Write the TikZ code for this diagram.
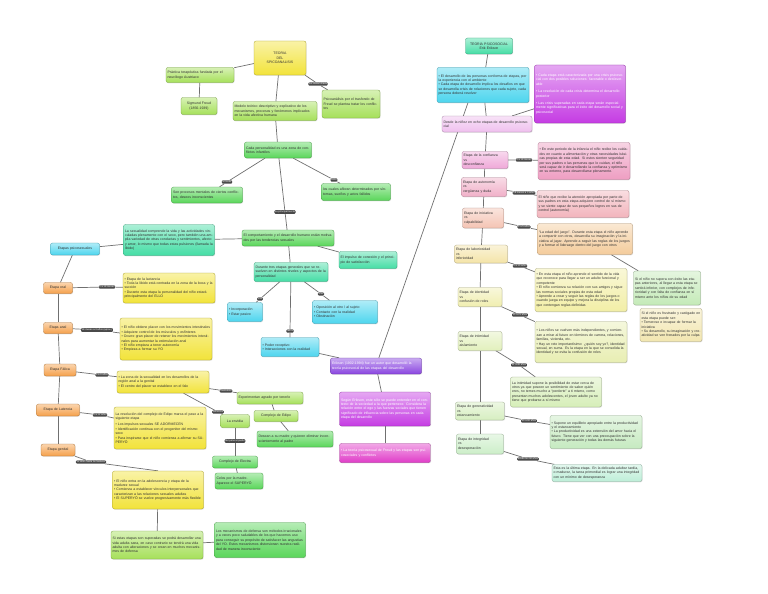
\documentclass[tikz,border=0pt]{standalone}
\usepackage{fontspec}
\setmainfont{Liberation Sans}
\usepackage{tikz}
\usetikzlibrary{shadows}
\definecolor{cYel}{HTML}{F2E33A}
\definecolor{cLime}{HTML}{A6E05A}
\definecolor{cGreen}{HTML}{5AD65A}
\definecolor{cTeal}{HTML}{45DDA5}
\definecolor{cCyan}{HTML}{4DD5EE}
\definecolor{cOrg}{HTML}{F5A04A}
\definecolor{cPurp}{HTML}{8A45E0}
\definecolor{cMag}{HTML}{C53CE3}
\definecolor{cPink}{HTML}{E03CC8}
\definecolor{cLbl}{HTML}{4A4A4A}
\definecolor{cLine}{HTML}{707070}
\definecolor{cLav}{HTML}{EFC0EE}
\definecolor{cStA}{HTML}{EFA8D8}
\definecolor{cTxA}{HTML}{EE9EC2}
\definecolor{cStB}{HTML}{F0B0C8}
\definecolor{cTxB}{HTML}{F2B4BC}
\definecolor{cStC}{HTML}{F4C4B4}
\definecolor{cTxC}{HTML}{F4CC9C}
\definecolor{cStD}{HTML}{F4E4A8}
\definecolor{cTxD}{HTML}{F2EEA6}
\definecolor{cStE}{HTML}{F0EEB0}
\definecolor{cTxE}{HTML}{E8EEB2}
\definecolor{cStF}{HTML}{E2F0BC}
\definecolor{cTxF}{HTML}{D6EEB8}
\definecolor{cStG}{HTML}{D6EEC0}
\definecolor{cTxG}{HTML}{C6EAC0}
\definecolor{cStH}{HTML}{CCEEC8}
\definecolor{cTxH}{HTML}{BEEED8}
\definecolor{cFrac}{HTML}{C4EAB8}
\definecolor{cCast}{HTML}{F2E6B0}
\pgfdeclarelayer{bg}
\pgfsetlayers{bg,main}

\begin{document}
\begin{tikzpicture}[x=1pt, y=-1pt,
		box/.style={rounded corners=2pt, draw=#1!70!black, line width=0.3pt, top color=#1!45!white, bottom color=#1,
			inner sep=1.5pt, align=left, text=black!80, font=\fontsize{3.5}{4.4}\selectfont,
			drop shadow={opacity=0.2, shadow xshift=0.6pt, shadow yshift=-0.8pt}},
		lbl/.style={fill=cLbl, rounded corners=1pt, text=white, font=\fontsize{2.5}{3}\selectfont, inner sep=0.7pt},
		conn/.style={draw=cLine, line width=0.7pt}]
	\useasboundingbox (0,0) rectangle (768,594);

	\node[box=cYel, text width=49pt, minimum height=34pt, align=center] (teoria) at (280,58) {TEORIA\\DEL\\SPICOANALISIS};
	\node[box=cLime, text width=65pt, minimum height=15pt] (practica) at (200,75) {Práctica terapéutica fundada por el neurólogo Austriaco};
	\node[box=cLime, text width=33pt, minimum height=17pt, align=center] (freud) at (199,106) {Sigmund Freud\\(1856-1939)};
	\node[lbl] (lFue) at (318,84) {fue desarrollada};
	\node[box=cLime, text width=55pt, minimum height=28pt] (psico) at (351,104) {Psicoanálisis por el trasfondo de Freud se plantea tratar los conflictos};
	\node[box=cLime, text width=81pt, minimum height=19pt] (modelo) at (275,111) {Modelo teórico descriptivo y explicativo de los mecanismos, procesos y fenómenos implicados en la vida afectiva humana};
	\node[box=cGreen, text width=64pt, minimum height=16pt] (cada) at (278,150) {Cada personalidad es una zona de conflictos infantiles};
	\node[lbl] (lTraves) at (227,182) {a través};
	\node[box=cGreen, text width=68pt, minimum height=16pt] (procesos) at (207,195) {Son procesos mentales de ciertos conflictos, deseos inconscientes};
	\node[lbl] (lTiene) at (334,180) {tiene};
	\node[box=cGreen, text width=66pt, minimum height=17pt] (afloran) at (356,192) {los cuales afloran determinados por síntomas, sueños y actos fallidos};
	\node[lbl] (lSu) at (285,212) {su principal teoría};
	\node[box=cGreen, text width=89pt, minimum height=16pt] (comport) at (288,238) {El comportamiento y el desarrollo humano están motivados por las tendencias sexuales};
	\node[box=cTeal, text width=88pt, minimum height=31pt] (sexual) at (169,240) {La sexualidad comprende la vida y las actividades vinculadas plenamente con el sexo, pero también una amplia variedad de otras conductas y sentimientos, afecto y amor, lo mismo que todas estas pulsiones (llamada la libido)};
	\node[box=cCyan, text width=46pt, minimum height=12pt, align=center] (etapas) at (75,249) {Etapas psicosexuales};
	\node[box=cTeal, text width=55pt, minimum height=17pt] (impulso) at (368,260) {El impulso de conexión y el principio de satisfacción};
	\node[box=cTeal, text width=71pt, minimum height=19pt] (durante) at (291,272) {Durante tres etapas generales que se resuelven en distintos niveles y aspectos de la personalidad};
	\node[lbl] (lOral) at (260,299) {oral};
	\node[box=cCyan, text width=32pt, minimum height=19pt] (incorp) at (245,312) {• Incorporación\\• Estar pasivo};
	\node[lbl] (lAnal) at (321,294) {anal};
	\node[box=cCyan, text width=62pt, minimum height=23pt] (oposic) at (345,312) {• Oposición al otro / al sujeto\\• Contacto con la realidad\\• Obstinación};
	\node[lbl] (lFalica) at (290,331) {fálica};
	\node[box=cCyan, text width=55pt, minimum height=19pt] (poder) at (290,347) {• Poder receptivo\\• Interacciones con la realidad};
	\node[box=cPurp, text width=88pt, minimum height=16pt, text=white] (erikson) at (376,366) {Erikson (1902-1994) fue un autor que desarrolló la teoría psicosocial de las etapas del desarrollo};
	\node[box=cMag, text width=88pt, minimum height=34pt, text=white] (segun) at (385,409) {Según Erikson, este sólo se puede entender en el contexto de la sociedad a la que pertenece. Considera la relación entre el ego y las fuerzas sociales que tienen significado de influencia sobre las personas en cada etapa del desarrollo};
	\node[box=cPink, text width=88pt, minimum height=19pt, text=white] (freudPs) at (385,453) {• La teoría psicosexual de Freud y las etapas son psicosociales y conflictos};

	\node[box=cOrg, text width=26pt, minimum height=11pt, align=center] (stOral) at (58,288) {Etapa oral};
	\node[lbl] (lOralT) at (107,287) {0 a 18 meses};
	\node[box=cYel, text width=89pt, minimum height=30pt] (txOral) at (169,288) {• Etapa de la lactancia\\• Toda la libido está centrada en la zona de la boca y la succión\\• Durante esta etapa la personalidad del niño estará principalmente del ELLO};
	\node[box=cOrg, text width=26pt, minimum height=11pt, align=center] (stAnal) at (58,328) {Etapa anal};
	\node[lbl] (lAnalT) at (97,330) {18 meses a 3 años (aprox.)};
	\node[box=cYel, text width=89pt, minimum height=42pt] (txAnal) at (166,339) {• El niño obtiene placer con los movimientos intestinales\\• Adquiere control de los músculos y esfínteres\\• Ocurre gran placer de retener los movimientos intestinales para aumentar la estimulación anal\\• El niño empieza a tener autonomía\\• Empieza a formar su YO};
	\node[box=cOrg, text width=29pt, minimum height=12pt, align=center] (stFalica) at (60,370) {Etapa Fálica};
	\node[lbl] (lFalT) at (102,375) {3 a 6 años};
	\node[box=cYel, text width=89pt, minimum height=22pt] (txFalica) at (163,382) {• La zona de la sexualidad en los desarrollos de la región anal a la genital\\• El centro del placer se establece en el falo};
	\node[box=cOrg, text width=40pt, minimum height=12pt, align=center] (stLaten) at (58,410) {Etapa de Latencia};
	\node[lbl] (lLatT) at (100,415) {6 a 12 años};
	\node[box=cYel, text width=89pt, minimum height=42pt] (txLaten) at (160,428) {La resolución del complejo de Edipo marca el paso a la siguiente etapa\\[2pt]• Los impulsos sexuales SE ADORMECEN\\• Identificación continua con el progenitor del mismo sexo\\• Para inspirarse que el niño comienza a afirmar su SUPERYÓ};
	\node[box=cOrg, text width=31pt, minimum height=12pt, align=center] (stGenit) at (58,450) {Etapa genital};
	\node[lbl] (lGenT) at (91,462) {12 años hasta la madurez};
	\node[box=cYel, text width=88pt, minimum height=38pt] (txGenit) at (158,490) {• El niño entra en la adolescencia y etapa de la madurez sexual\\• Comienza a establecer vínculos interpersonales que caracterizan a las relaciones sexuales adultas\\• El SUPERYÓ se vuelve progresivamente más flexible};
	\node[box=cLime, text width=89pt, minimum height=28pt] (sana) at (157,545) {Si estas etapas son superadas se podrá desarrollar una vida adulta sana, en caso contrario se tendrá una vida adulta con alteraciones y se crean en muchos mecanismos de defensa};
	\node[box=cGreen, text width=88pt, minimum height=35pt] (defensa) at (260,540) {Los mecanismos de defensa son métodos irracionales y a veces poco saludables de los que hacemos uso para conseguir su propósito de satisfacer las angustias del YO. Estos mecanismos distorsionan nuestra realidad de manera inconsciente};

	\node[lbl] (lMasc) at (226,391) {masculino};
	\node[box=cLime, text width=63pt, minimum height=12pt] (agrado) at (270,398) {Experimentan agrado por tenerlo};
	\node[box=cLime, text width=41pt, minimum height=11pt, align=center] (edipo) at (276,416) {Complejo de Edipo};
	\node[box=cGreen, text width=73pt, minimum height=16pt] (desean) at (295,439) {Desean a su madre y quieren eliminar inconscientemente al padre};
	\node[lbl] (lFem) at (218,412) {femenino};
	\node[box=cLime, text width=26pt, minimum height=13pt, align=center] (envidia) at (235,421) {La envidia};
	\node[lbl] (lPene) at (235,441) {del pene al padre};
	\node[box=cGreen, text width=42pt, minimum height=12pt, align=center] (electra) at (235,462) {Complejo de Electra};
	\node[box=cGreen, text width=45pt, minimum height=16pt] (celos) at (239,481) {Celos por la madre. Aparece el SUPERYÓ};

	\node[box=cTeal, text width=44pt, minimum height=16pt, align=center] (psSoc) at (489,46) {TEORIA PSICOSOCIAL\\Erik Erikson};
	\node[box=cCyan, text width=89pt, minimum height=35pt] (desarr) at (483,85) {• El desarrollo de las personas conforma de etapas, por la experiencia con el ambiente\\• Cada etapa de desarrollo implica los desafíos en que se desarrolla crisis de relaciones que cada sujeto, cada persona deberá resolver};
	\node[box=cMag, text width=88pt, minimum height=58pt, text=white] (crisis) at (580,94) {• Cada etapa está caracterizada por una crisis psicosocial con dos posibles soluciones: favorable o desfavorable\\[3pt]• La resolución de cada crisis determina el desarrollo posterior\\[3pt]• Las crisis superadas en cada etapa serán especialmente significativas para el éxito del desarrollo social y psicosocial};
	\node[box=cLav, text width=87pt, minimum height=16pt] (ninez) at (487,124) {Desde la niñez en ocho etapas de desarrollo psicosocial};

	\node[box=cStA, text width=43pt, minimum height=17pt] (sConf) at (485,160) {Etapa de la confianza\\vs\\desconfianza};
	\node[lbl] (lConf) at (524,160) {0 a 18 meses};
	\node[box=cTxA, text width=89pt, minimum height=37pt] (tConf) at (584,161) {• En este periodo de la infancia el niño recibe los cuidados en cuanto a alimentación y otras necesidades básicas propias de esta edad. Si estos sienten seguridad por sus padres o las personas que lo cuidan, el niño será capaz de ir desarrollando la confianza y optimismo en su entorno, para desarrollarse plenamente.};
	\node[box=cStB, text width=42pt, minimum height=19pt] (sAuto) at (484,187) {Etapa de autonomía\\vs\\vergüenza y duda};
	\node[lbl] (lAuto) at (524,193) {18 meses a 3 años};
	\node[box=cTxB, text width=89pt, minimum height=27pt] (tAuto) at (583,204) {El niño que recibe la atención apropiada por parte de sus padres en esta etapa adquiere control de sí mismo y se siente capaz de sus pequeños logros en sus de control (autonomía)};
	\node[box=cStC, text width=38pt, minimum height=20pt] (sInic) at (483,218) {Etapa de iniciativa\\vs\\culpabilidad};
	\node[lbl] (lInic) at (524,227) {3 a 5 años};
	\node[box=cTxC, text width=92pt, minimum height=31pt] (tInic) at (585,239) {“La edad del juego”. Durante esta etapa el niño aprende a compartir con otros, desarrolla su imaginación y la iniciativa al jugar. Aprende a seguir las reglas de los juegos y a formar el liderazgo dentro del juego con otros};
	\node[box=cStD, text width=50pt, minimum height=18pt] (sLabor) at (481,254) {Etapa de laboriosidad\\vs\\inferioridad};
	\node[lbl] (lLabor) at (520,266) {5 a 13 años};
	\node[box=cTxD, text width=89pt, minimum height=43pt] (tLabor) at (581,290) {• En esta etapa el niño aprende el sentido de la vida que reconoce para llegar a ser un adulto funcional y competente\\• El niño comienza su relación con sus amigos y sigue las normas sociales propias de esta edad\\• Aprende a crear y seguir las reglas de los juegos o cuando juega en equipo y mejora la disciplina de los que contengan reglas definidas};
	\node[box=cStE, text width=41pt, minimum height=19pt] (sIdent) at (480,297) {Etapa de identidad\\vs\\confusión de roles};
	\node[lbl] (lIdent) at (520,315) {13 a 21 años};
	\node[box=cTxE, text width=89pt, minimum height=41pt] (tIdent) at (581,342) {• Los niños se vuelven más independientes, y comienzan a mirar al futuro en términos de carrera, relaciones, familias, vivienda, etc.\\• Hay un reto importantísimo: ¿quién soy yo?, identidad sexual, en suma. Es la etapa en la que se consolida la identidad y se evita la confusión de roles};
	\node[box=cStF, text width=41pt, minimum height=19pt] (sIntim) at (480,341) {Etapa de intimidad\\vs\\aislamiento};
	\node[lbl] (lIntim) at (519,365) {21 a 40 años};
	\node[box=cTxF, text width=88pt, minimum height=30pt] (tIntim) at (556,392) {La intimidad supone la posibilidad de estar cerca de otros ya que poseen un sentimiento de saber quién eres, no temes mucho a “perderte” a ti mismo, como presentan muchos adolescentes, el joven adulto ya no tiene que probarse a sí mismo};
	\node[box=cStG, text width=46pt, minimum height=18pt] (sGener) at (480,411) {Etapa de generatividad\\vs\\estancamiento};
	\node[lbl] (lGener) at (529,421) {40 a 60 años};
	\node[box=cTxG, text width=89pt, minimum height=33pt] (tGener) at (596,432) {• Supone un equilibrio apropiado entre la productividad y el estancamiento\\• La productividad es una extensión del amor hacia el futuro. Tiene que ver con una preocupación sobre la siguiente generación y todas las demás futuras};
	\node[box=cStH, text width=44pt, minimum height=20pt] (sInteg) at (480,444) {Etapa de integridad\\vs\\desesperación};
	\node[lbl] (lInteg) at (528,459) {desde los 60 años};
	\node[box=cTxH, text width=87pt, minimum height=17pt] (tInteg) at (597,473) {Esta es la última etapa. En la delicada adultez tardía, o madurez, la tarea primordial es lograr una integridad con un mínimo de desesperanza};
	\node[box=cFrac, text width=64pt, minimum height=34pt] (fracaso) at (667,288) {Si el niño no supera con éxito las etapas anteriores, al llegar a esta etapa se sentirá inferior, con complejos de inferioridad y con falta de confianza en sí mismo ante los niños de su edad};
	\node[box=cCast, text width=59pt, minimum height=33pt] (castigo) at (671,325) {Si el niño es frustrado y castigado en esta etapa puede ser:\\• Temeroso e incapaz de formar la iniciativa\\• Su desarrollo, su imaginación y creatividad se ven frenados por la culpa};

	\begin{pgfonlayer}{bg}
		\draw[conn] (teoria) -- (practica);
		\draw[conn] (practica) -- (freud);
		\draw[conn] (teoria) -- (lFue) -- (psico);
		\draw[conn] (teoria) -- (modelo);
		\draw[conn] (modelo) -- (cada);
		\draw[conn] (cada) -- (lTraves) -- (procesos);
		\draw[conn] (cada) -- (lTiene) -- (afloran);
		\draw[conn] (cada) -- (lSu) -- (comport);
		\draw[conn] (comport) -- (sexual);
		\draw[conn] (sexual) -- (etapas);
		\draw[conn] (comport) -- (impulso);
		\draw[conn] (comport) -- (durante);
		\draw[conn] (durante) -- (lOral) -- (incorp);
		\draw[conn] (durante) -- (lAnal) -- (oposic);
		\draw[conn] (durante) -- (lFalica) -- (poder);
		\draw[conn] (poder) -- (erikson);
		\draw[conn] (erikson) -- (segun);
		\draw[conn] (segun) -- (freudPs);
		\draw[conn] (etapas) -- (stOral);
		\draw[conn] (stOral) -- (stAnal);
		\draw[conn] (stAnal) -- (stFalica);
		\draw[conn] (stFalica) -- (stLaten);
		\draw[conn] (stLaten) -- (stGenit);
		\draw[conn] (stOral) -- (lOralT) -- (txOral);
		\draw[conn] (stAnal) -- (lAnalT) -- (txAnal);
		\draw[conn] (stFalica) -- (lFalT) -- (txFalica);
		\draw[conn] (stLaten) -- (lLatT) -- (txLaten);
		\draw[conn] (stGenit) -- (lGenT) -- (txGenit.north);
		\draw[conn] (txGenit) -- (sana);
		\draw[conn] (sana) -- (defensa);
		\draw[conn] (txFalica) -- (lMasc) -- (agrado);
		\draw[conn] (agrado) -- (edipo);
		\draw[conn] (edipo) -- (desean);
		\draw[conn] (txFalica) -- (lFem) -- (envidia);
		\draw[conn] (envidia) -- (lPene) -- (electra);
		\draw[conn] (electra) -- (celos);

		\draw[conn] (psSoc) -- (desarr);
		\draw[conn] (desarr) -- (ninez);
		\draw[conn] (crisis) -- (ninez);
		\draw[conn] ([xshift=-15pt]desarr.south) -- (erikson);
		\draw[conn] (ninez) -- (sConf);
		\draw[conn] (sConf) -- (sAuto);
		\draw[conn] (sAuto) -- (sInic);
		\draw[conn] (sInic) -- (sLabor);
		\draw[conn] (sLabor) -- (sIdent);
		\draw[conn] (sIdent) -- (sIntim);
		\draw[conn] (sIntim) -- (sGener);
		\draw[conn] (sGener) -- (sInteg);
		\draw[conn] (sConf) -- (lConf) -- (tConf);
		\draw[conn] (sAuto) -- (lAuto) -- (tAuto);
		\draw[conn] (sInic) -- (lInic) -- (tInic);
		\draw[conn] (sLabor) -- (lLabor) -- (tLabor);
		\draw[conn] (sIdent) -- (lIdent) -- (tIdent);
		\draw[conn] (sIntim) -- (lIntim) -- (tIntim);
		\draw[conn] (sGener) -- (lGener) -- (tGener);
		\draw[conn] (sInteg) -- (lInteg) -- (tInteg);
		\draw[conn] (tInic) -- (fracaso);
	\end{pgfonlayer}
\end{tikzpicture}
\end{document}
